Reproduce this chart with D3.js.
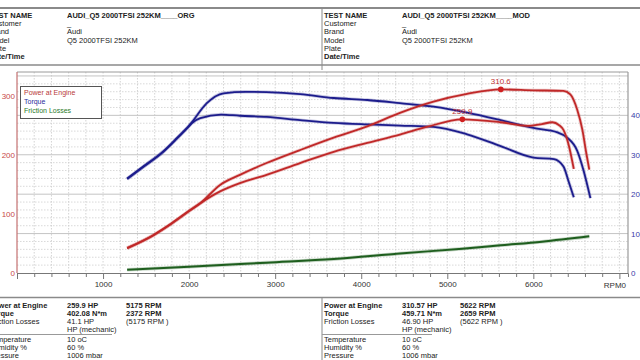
<!DOCTYPE html>
<html><head><meta charset="utf-8">
<script src="https://cdn.jsdelivr.net/npm/d3@7"></script>
<style>
html,body{margin:0;padding:0;background:#fff;}
svg{display:block;font-family:"Liberation Sans",Arial,sans-serif;}
</style></head>
<body>
<svg id="c" width="640" height="360"></svg>
<script>
// ---- data ----
const xTicks = [1000, 2000, 3000, 4000, 5000, 6000];
const hpTicks = [0, 100, 200, 300];
const nmTicks = [0, 100, 200, 300, 400];

const orgPowerRpm = [1280,1585,1800,1990,2130,2360,2590,2900,3290,3680,4070,4450,4760,5175,5620,5930,6100,6220,6300,6350,6410,6470];
const orgPower    = [42,64,84,104,118,138,152,166,186,205,220,234,247,259.9,255,249,252,255,250,242,217,176];

const modPowerRpm = [1280,1585,1800,1990,2130,2360,2590,2900,3290,3680,4070,4450,4840,5230,5622,6000,6350,6430,6510,6570,6615,6650];
const modPower    = [42,64,84,104,118,149,166,186,208,229,248,271,290,303,310.6,309,308,302,276,242,203,175];

const orgTorqueRpm = [1280,1470,1700,1860,1990,2030,2130,2372,2590,2900,3290,3680,4070,4450,4840,5230,5620,6000,6240,6350,6410,6470];
const orgTorque    = [239,270,308,342,371,380,393,402.08,399,396,388,381,377,374,371,352,322,293,289,270,232,192];

const modTorqueRpm = [1280,1470,1700,1860,1990,2030,2206,2400,2659,2900,3290,3680,4070,4450,4840,5230,5620,6000,6280,6390,6510,6585,6663];
const modTorque    = [239,270,308,342,371,382,431,456,459.71,459,454,444,439,431,422,407,388,368,357,344,310,259,190];

const frictionRpm = [1280,2000,2900,3680,4450,5175,5622,6100,6650];
const friction    = [5.5,10.5,17.5,23.5,33,41.1,46.9,53,62];

const peaks = [{rpm:5622, hp:310.6, label:"310.6"},{rpm:5175, hp:259.9, label:"259.9"}];

const legendItems = [["Power at Engine","#b83a3a"],["Torque","#2a2a9a"],["Friction Losses","#2a7a2a"]];

const headerLabels = ["TEST NAME","Customer","Brand","Model","Plate","Date/Time"];
const headerLeft  = ["AUDI_Q5 2000TFSI 252KM____ORG","_","Audi","Q5 2000TFSI 252KM","",""];
const headerRight = ["AUDI_Q5 2000TFSI 252KM____MOD","_","Audi","Q5 2000TFSI 252KM","",""];

const resLabels = ["Power at Engine","Torque","Friction Losses",""];
const resLeftVal = ["259.9 HP","402.08 N*m","41.1 HP","HP (mechanic)"];
const resLeftRpm = ["5175 RPM","2372 RPM","(5175 RPM )",""];
const resRightVal = ["310.57 HP","459.71 N*m","46.90 HP","HP (mechanic)"];
const resRightRpm = ["5622 RPM","2659 RPM","(5622 RPM )",""];
const envLabels = ["Temperature","Humidity %","Pressure"];
const envVals = ["10 oC","60 %","1006 mbar"];

// ---- layout ----
const svg = d3.select("#c");
const L = 17, R = 628, T = 72, B = 273;
const x = d3.scaleLinear().domain([0, 7100]).range([L, R]);
const yHp = d3.scaleLinear().domain([0, 340]).range([B, T]);
const yNm = d3.scaleLinear().domain([0, 510]).range([B, T]);

svg.append("rect").attr("width",640).attr("height",360).attr("fill","#fff");

// header
const hdr = svg.append("g");
hdr.append("line").attr("x1",0).attr("x2",640).attr("y1",8).attr("y2",8).attr("stroke","#8a8a8a").attr("stroke-width",2);
hdr.append("line").attr("x1",0).attr("x2",640).attr("y1",65).attr("y2",65).attr("stroke","#8a8a8a").attr("stroke-width",1.5);
hdr.append("line").attr("x1",322).attr("x2",322).attr("y1",8).attr("y2",70).attr("stroke","#8a8a8a").attr("stroke-width",1);
function headerBlock(x0, xv, vals){
  headerLabels.forEach((t,i)=>{
    const bold = (i===0 || i===5);
    hdr.append("text").attr("x",x0).attr("y",18+i*8.2).attr("font-size",7.5)
      .attr("font-weight",bold?"bold":"normal").attr("fill","#222").text(t);
    if (vals[i]) hdr.append("text").attr("x",xv).attr("y",18+i*8.2).attr("font-size",7.5)
      .attr("font-weight",i===0?"bold":"normal").attr("fill","#222").text(vals[i]);
  });
}
headerBlock(-11, 67, headerLeft);
headerBlock(324, 402, headerRight);

// plot background & grid
const g = svg.append("g");
g.append("rect").attr("x",L).attr("y",T).attr("width",R-L).attr("height",B-T).attr("fill","#fff");
const vgrid = d3.range(200, 7100, 200);
g.selectAll(".vg").data(vgrid).join("line")
  .attr("x1",d=>x(d)).attr("x2",d=>x(d)).attr("y1",T).attr("y2",B)
  .attr("stroke","#c8c8c8").attr("stroke-width",0.8).attr("stroke-dasharray","1.5,1.5");
const hgrid = d3.range(20, 510, 20);
g.selectAll(".hg").data(hgrid).join("line")
  .attr("x1",L).attr("x2",R).attr("y1",d=>yNm(d)).attr("y2",d=>yNm(d))
  .attr("stroke",d=>d%100===0?"#c4c4c4":"#cfcfcf")
  .attr("stroke-width",d=>d%100===0?1:0.8)
  .attr("stroke-dasharray",d=>d%100===0?null:"1.5,1.5");

// frame
g.append("line").attr("x1",L).attr("x2",R).attr("y1",T).attr("y2",T).attr("stroke","#9a9a9a").attr("stroke-width",1);
g.append("line").attr("x1",R).attr("x2",R).attr("y1",T).attr("y2",B).attr("stroke","#9a9a9a").attr("stroke-width",1.2);
g.append("line").attr("x1",L).attr("x2",L).attr("y1",T).attr("y2",B).attr("stroke","#c47070").attr("stroke-width",1.2);

// x axis
const xAxis = d3.axisBottom(x).tickValues(d3.range(0,7001,200)).tickSize(4).tickFormat(d=> xTicks.includes(d)? d : "");
const xa = svg.append("g").attr("transform",`translate(0,${B})`).call(xAxis);
xa.select(".domain").attr("stroke","#777");
xa.selectAll(".tick line").attr("stroke","#777").attr("y2",d=>d%1000===0?6:4);
xa.selectAll(".tick text").attr("font-size",8).attr("fill","#333").attr("font-family","Liberation Sans, Arial, sans-serif").attr("dy","0.9em");
svg.append("text").attr("x",626).attr("y",288).attr("text-anchor","end").attr("font-size",8).attr("fill","#333").text("RPM0");

// left axis (HP)
const la = svg.append("g").attr("transform",`translate(${L},0)`).call(d3.axisLeft(yHp).tickValues(hpTicks).tickSize(0).tickPadding(2));
la.select(".domain").remove();
la.selectAll(".tick text").attr("font-size",8).attr("fill","#c84848").attr("font-family","Liberation Sans, Arial, sans-serif");

// right axis (Nm)
const ra = svg.append("g").attr("transform",`translate(${R},0)`).call(d3.axisRight(yNm).tickValues(nmTicks).tickSize(0).tickPadding(3));
ra.select(".domain").remove();
ra.selectAll(".tick text").attr("font-size",8).attr("fill","#3a3aa8").attr("font-family","Liberation Sans, Arial, sans-serif");

// curves
const plot = svg.append("g");
function curve(rpms, vals, ys, color, w){
  const pts = rpms.map((r,i)=>[x(r), ys(vals[i])]);
  const line = d3.line().curve(d3.curveMonotoneX);
  plot.append("path").attr("d",line(pts)).attr("fill","none").attr("stroke",color).attr("stroke-opacity",0.25).attr("stroke-width",w+1.6).attr("stroke-linejoin","round");
  plot.append("path").attr("d",line(pts)).attr("fill","none").attr("stroke",color).attr("stroke-width",w).attr("stroke-linejoin","round");
}
curve(frictionRpm, friction, yHp, "#1e5e1e", 2);
curve(orgTorqueRpm, orgTorque, yNm, "#1c1c8c", 1.8);
curve(modTorqueRpm, modTorque, yNm, "#1c1c8c", 1.8);
curve(orgPowerRpm, orgPower, yHp, "#c02828", 1.8);
curve(modPowerRpm, modPower, yHp, "#c02828", 1.8);

// peak markers
peaks.forEach(p=>{
  plot.append("circle").attr("cx",x(p.rpm)).attr("cy",yHp(p.hp)).attr("r",2.8).attr("fill","#d02020");
  plot.append("text").attr("x",x(p.rpm)).attr("y",yHp(p.hp)-5).attr("text-anchor","middle").attr("font-size",8).attr("fill","#c03030").text(p.label);
});

// legend
const lg = svg.append("g");
lg.append("rect").attr("x",20.5).attr("y",86.5).attr("width",81).attr("height",32).attr("fill","#fff").attr("stroke","#555").attr("stroke-width",1);
legendItems.forEach((d,i)=>{
  lg.append("text").attr("x",24).attr("y",95+i*8.8).attr("font-size",7).attr("fill",d[1]).text(d[0]);
});

// bottom tables
const bt = svg.append("g");
bt.append("line").attr("x1",0).attr("x2",640).attr("y1",297.5).attr("y2",297.5).attr("stroke","#8a8a8a").attr("stroke-width",1.5);
bt.append("line").attr("x1",322).attr("x2",322).attr("y1",297).attr("y2",360).attr("stroke","#8a8a8a").attr("stroke-width",1);
bt.append("line").attr("x1",0).attr("x2",112).attr("y1",334.5).attr("y2",334.5).attr("stroke","#999").attr("stroke-width",1);
bt.append("line").attr("x1",322).attr("x2",432).attr("y1",334.5).attr("y2",334.5).attr("stroke","#999").attr("stroke-width",1);
function resBlock(x0, xv, xr, vals, rpms){
  resLabels.forEach((t,i)=>{
    const bold = i<2;
    if (t) bt.append("text").attr("x",x0).attr("y",307.5+i*8.3).attr("font-size",7.5).attr("font-weight",bold?"bold":"normal").attr("fill","#222").text(t);
    bt.append("text").attr("x",xv).attr("y",307.5+i*8.3).attr("font-size",7.5).attr("font-weight",bold?"bold":"normal").attr("fill","#222").text(vals[i]);
    if (rpms[i]) bt.append("text").attr("x",xr).attr("y",307.5+i*8.3).attr("font-size",7.5).attr("font-weight",bold?"bold":"normal").attr("fill","#222").text(rpms[i]);
  });
  envLabels.forEach((t,i)=>{
    bt.append("text").attr("x",x0).attr("y",342+i*8.2).attr("font-size",7.5).attr("fill","#222").text(t);
    bt.append("text").attr("x",xv).attr("y",342+i*8.2).attr("font-size",7.5).attr("fill","#222").text(envVals[i]);
  });
}
resBlock(-11, 67, 126, resLeftVal, resLeftRpm);
resBlock(324, 402, 460, resRightVal, resRightRpm);
</script>
</body></html>
